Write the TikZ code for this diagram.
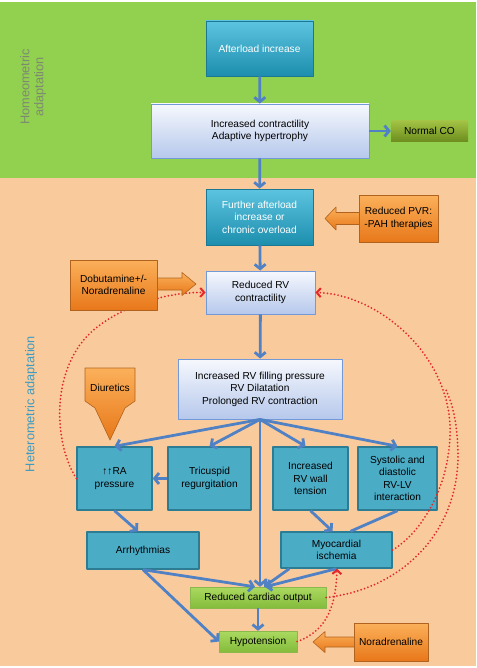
\documentclass[tikz,border=0pt]{standalone}
\usepackage{fontspec}
\setmainfont{Liberation Sans}
\usetikzlibrary{arrows.meta,calc}
\definecolor{greenbg}{HTML}{92D050}
\definecolor{orangebg}{HTML}{F9CB9C}
\definecolor{tealfill}{HTML}{4BACC6}
\definecolor{tealline}{HTML}{2C7C93}
\definecolor{tealtopA}{HTML}{5CC4E0}
\definecolor{tealtopB}{HTML}{1D8EAE}
\definecolor{tealtopline}{HTML}{1B7893}
\definecolor{paleA}{HTML}{F6F8FD}
\definecolor{paleB}{HTML}{B6C8EC}
\definecolor{paleline}{HTML}{7399D9}
\definecolor{orangeA}{HTML}{FBB05A}
\definecolor{orangeB}{HTML}{E8781A}
\definecolor{orangeline}{HTML}{B0631E}
\definecolor{greenA}{HTML}{AAD95F}
\definecolor{greenB}{HTML}{84BC3C}
\definecolor{greenline}{HTML}{8BB84C}
\definecolor{oliveA}{HTML}{A2C244}
\definecolor{oliveB}{HTML}{6E8E1F}
\definecolor{flowblue}{HTML}{4F81C4}
\definecolor{fbred}{HTML}{E3262B}
\definecolor{homeocolor}{HTML}{7D8A72}
\definecolor{heterocolor}{HTML}{3E9BC1}
\tikzset{
  every picture/.style={line join=round, >=Stealth},
  box/.style={rectangle, inner sep=0pt, align=center, font=\fontsize{10.2}{12.5}\selectfont},
  tealtop/.style={box, draw=tealtopline, line width=0.8pt, top color=tealtopA, bottom color=tealtopB, text=white},
  tealbox/.style={box, draw=tealline, line width=1.4pt, fill=tealfill},
  paleblue/.style={box, draw=paleline, line width=0.9pt, top color=paleA, bottom color=paleB},
  orangebox/.style={box, draw=orangeline, line width=0.8pt, top color=orangeA, bottom color=orangeB},
  greenbox/.style={box, draw=greenline, line width=0.4pt, top color=greenA, bottom color=greenB},
  olivebox/.style={box, top color=oliveA, bottom color=oliveB},
  sidelabel/.style={align=center, inner sep=0pt, font=\fontsize{12.8}{14}\selectfont},
  flow/.style={draw=flowblue, line width=2.8pt, -{Straight Barb[length=4.5pt,width=11pt]}},
  flowline/.style={draw=flowblue, line width=2.8pt},
  feedback/.style={draw=fbred, line width=2pt, line cap=round, dash pattern=on 0pt off 3.6pt, -{Straight Barb[length=4pt,width=9pt]}},
  feedbackline/.style={draw=fbred, line width=2pt, line cap=round, dash pattern=on 0pt off 3.6pt},
  blockarrow/.style={draw=orangeline, line width=0.6pt, top color=orangeA, bottom color=orangeB},
}

\begin{document}
\begin{tikzpicture}[x=1bp,y=-1bp]
\useasboundingbox (0,0) rectangle (477,668);
% backgrounds
\fill[white] (0,0) rectangle (477,668);
\fill[greenbg] (0,2) rectangle (476,178);
\fill[orangebg] (0,178) rectangle (476,666);
\node[sidelabel, text=homeocolor, rotate=90] (homeo) at (33,87) {Homeometric\\adaptation};
\node[sidelabel, text=heterocolor, rotate=90] (hetero) at (31,404) {Heterometric adaptation};

% main chain
\node[tealtop, minimum width=107bp, minimum height=55bp] (afterload) at (259.5,48.5) {Afterload increase};
\node[paleblue, minimum width=218bp, minimum height=54bp] (contract) at (260,131) {Increased contractility\\Adaptive hypertrophy};
\node[olivebox, minimum width=77bp, minimum height=20bp] (normalco) at (429.5,131) {Normal CO};
\node[tealtop, minimum width=107bp, minimum height=56bp] (further) at (259.5,217) {Further afterload\\increase or\\chronic overload};
\node[paleblue, minimum width=109bp, minimum height=43bp] (redrv) at (260.5,292.5) {Reduced RV\\contractility};
\node[paleblue, minimum width=164bp, minimum height=60bp] (filling) at (260,389) {Increased RV filling pressure\\RV Dilatation\\Prolonged RV contraction};
\node[tealbox, minimum width=75bp, minimum height=63bp] (ra) at (114.5,478.5) {↑↑RA\\pressure};
\node[tealbox, minimum width=83bp, minimum height=63bp] (tric) at (209.5,478.5) {Tricuspid\\regurgitation};
\node[tealbox, minimum width=75bp, minimum height=63bp] (tension) at (310.5,478.5) {Increased\\RV wall\\tension};
\node[tealbox, minimum width=79bp, minimum height=63bp] (systolic) at (397.5,478.5) {Systolic and\\diastolic\\RV-LV\\interaction};
\node[tealbox, minimum width=112bp, minimum height=37bp] (arrhyth) at (143,550.5) {Arrhythmias};
\node[tealbox, minimum width=111bp, minimum height=36bp] (ischemia) at (336.5,550) {Myocardial\\ischemia};
\node[greenbox, minimum width=136bp, minimum height=21bp] (redco) at (258,597.5) {Reduced cardiac output};
\node[greenbox, minimum width=78bp, minimum height=21bp] (hypo) at (258,641.5) {Hypotension};

% blue connectors
\draw[flow] (afterload) -- (contract);
\draw[flow] (contract) -- (normalco);
\draw[flow] (contract) -- (further);
\draw[flow] (further) -- (redrv);
\draw[flow] (redrv) -- (filling);
\draw[flow] (filling.south) -- (ra.north);
\draw[flow] (filling.south) -- (tric.north);
\draw[flow] (filling.south) -- ($(tension.north)+(-5,0)$);
\draw[flow] (filling.south) -- (systolic.north);
\draw[flow] (filling.south) -- (filling.south |- redco.north);
\draw[flow] (tric) -- (ra);
\draw[flow] (ra.south) -- ($(arrhyth.north)+(-5,0)$);
\draw[flow] (tension.south) -- ($(ischemia.north)+(-4,0)$);
\draw[flowline] (systolic.south) -- ($(ischemia.north)+(14,0)$);
\draw[flow] (arrhyth.south) -- ($(redco.north)+(-3,0)$);
\draw[flow] (arrhyth.south) -- (hypo.west);
\draw[flow] ($(ischemia.south west)+(9,0)$) -- ($(redco.north)+(6,0)$);
\draw[flow] (ischemia.south) -- ($(redco.north)+(7,0)$);
\draw[flow] (redco) -- (hypo);

% red feedback loops
\draw[feedback] (ra.west) .. controls (52,440) and (50,360) .. (100,325) .. controls (130,303) and (170,292) .. (redrv.west);
\draw[feedback] (ischemia.east) .. controls (425,530) and (452,480) .. (450,425) .. controls (446,350) and (375,294) .. (redrv.east);
\draw[feedbackline] (redco.east) .. controls (395,590) and (455,540) .. (458,460) .. controls (458,425) and (453,405) .. (446,390);
\draw[feedback] (hypo.east) .. controls (330,630) and (336,600) .. ($(ischemia.south)+(0.5,0)$);

% therapies
\path[blockarrow] (360,212.5) -- (336,212.5) -- (336,207) -- (325,218.5) -- (336,230) -- (336,224.5) -- (360,224.5) -- cycle;
\node[orangebox, minimum width=79bp, minimum height=47bp] (pvr) at (398.5,218.5) {Reduced PVR:\\-PAH therapies};
\path[blockarrow] (150,278) -- (182,278) -- (182,272.5) -- (196,284) -- (182,295.5) -- (182,290) -- (150,290) -- cycle;
\node[orangebox, minimum width=87bp, minimum height=50bp] (dobut) at (113.5,285) {Dobutamine+/-\\Noradrenaline};
\path[blockarrow] (85,368) -- (135,368) -- (135,401) -- (125,408) -- (110,440) -- (95,408) -- (85,401) -- cycle;
\node[box] (diur) at (110,388) {Diuretics};
\path[blockarrow] (355,637) -- (325,637) -- (325,631.5) -- (313,642) -- (325,652.5) -- (325,647) -- (355,647) -- cycle;
\node[orangebox, minimum width=74bp, minimum height=38bp] (nora) at (391,642) {Noradrenaline};
\end{tikzpicture}
\end{document}
